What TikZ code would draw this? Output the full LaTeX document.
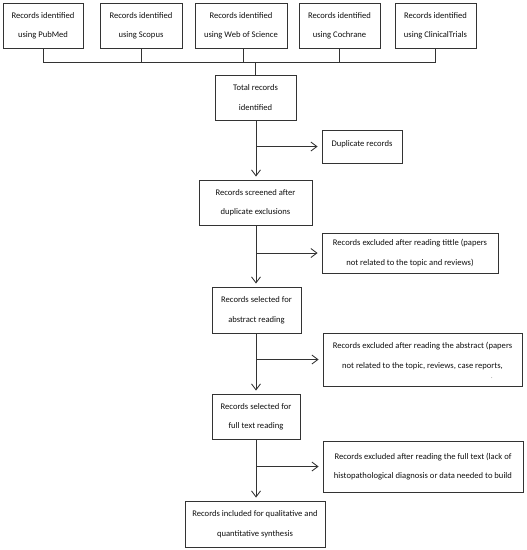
\documentclass[tikz,border=0pt]{standalone}
\usepackage{fontspec}
\setmainfont{Carlito}
\usetikzlibrary{arrows.meta}
\definecolor{linegray}{HTML}{333333}
\definecolor{txtgray}{HTML}{111111}
\tikzset{
  boxnode/.style={draw=linegray, line width=0.85pt, rectangle, inner sep=0pt, align=center,
    font=\fontsize{8.6}{19.5}\selectfont, text=txtgray},
  conn/.style={draw=linegray, line width=0.85pt},
  arr/.style={conn, -{Straight Barb[length=6pt,width=9pt,line width=0.85pt]}, shorten >=3pt},
  sidearr/.style={conn, -{Straight Barb[length=6pt,width=9pt,line width=0.85pt]}, shorten >=4pt}
}
\begin{document}
\begin{tikzpicture}[x=1pt,y=-1pt]
\useasboundingbox[fill=white] (0,0) rectangle (527,550);
% top row
\node[boxnode, minimum width=80pt, minimum height=45pt] (pub) at (43,25.5) {Records identified\\using PubMed};
\node[boxnode, minimum width=82pt, minimum height=45pt] (sco) at (141,25.5) {Records identified\\using Scopus};
\node[boxnode, minimum width=92pt, minimum height=45pt] (wos) at (241,25.5) {Records identified\\using Web of Science};
\node[boxnode, minimum width=81pt, minimum height=45pt] (coc) at (339.5,25.5) {Records identified\\using Cochrane};
\node[boxnode, minimum width=81pt, minimum height=45pt] (cli) at (435.5,25.5) {Records identified\\using ClinicalTrials};
% main column
\node[boxnode, minimum width=81pt, minimum height=45pt] (tot) at (255.5,97.5) {Total records\\identified};
\node[boxnode, minimum width=80pt, minimum height=33pt, text depth=6pt] (dup) at (362,146.5) {Duplicate records};
\node[boxnode, minimum width=113pt, minimum height=45pt] (scr) at (255.5,202.5) {Records screened after\\duplicate exclusions};
\node[boxnode, minimum width=176pt, minimum height=40pt] (tit) at (410,253) {Records excluded after reading tittle (papers\\not related to the topic and reviews)};
\node[boxnode, minimum width=89pt, minimum height=46pt] (abs) at (256.5,310) {Records selected for\\abstract reading};
\node[boxnode, minimum width=199pt, minimum height=53pt, text depth=8pt] (absx) at (422.5,359.5) {Records excluded after reading the abstract (papers\\not related to the topic, reviews, case reports,};
\node[font=\fontsize{6}{6}\selectfont, text=txtgray!70, inner sep=0pt] (absdot) at (492,378) {.};
\node[boxnode, minimum width=88pt, minimum height=45pt] (ful) at (256,416.5) {Records selected for\\full text reading};
\node[boxnode, minimum width=200pt, minimum height=51pt] (fulx) at (423,466.5) {Records excluded after reading the full text (lack of\\histopathological diagnosis or data needed to build};
\node[boxnode, minimum width=140pt, minimum height=46pt] (fin) at (255,524) {Records included for qualitative and\\quantitative synthesis};
% helper coordinates
\coordinate (busy) at (0,62);
\coordinate (spine) at (256,0);
% bus
\draw[conn] (pub.south) -- (pub.south |- busy) -- (cli.south |- busy) -- (cli.south);
\draw[conn] (sco.south) -- (sco.south |- busy);
\draw[conn] (wos.south) ++(2,0) coordinate (wosb) -- (wosb |- busy);
\draw[conn] (coc.south) -- (coc.south |- busy);
\draw[conn] (tot.north) -- (tot.north |- busy);
% spine
\draw[arr] (tot.south -| spine) -- (scr.north -| spine);
\draw[arr] (scr.south -| spine) -- (abs.north -| spine);
\draw[arr] (abs.south -| spine) -- (ful.north -| spine);
\draw[arr] (ful.south -| spine) -- (fin.north -| spine);
% side branches
\draw[sidearr] (spine |- dup.west) -- (dup.west);
\draw[sidearr] (spine |- tit.west) -- (tit.west);
\draw[sidearr] (spine |- absx.west) -- (absx.west);
\draw[sidearr] (spine |- fulx.west) -- (fulx.west);
\end{tikzpicture}
\end{document}
